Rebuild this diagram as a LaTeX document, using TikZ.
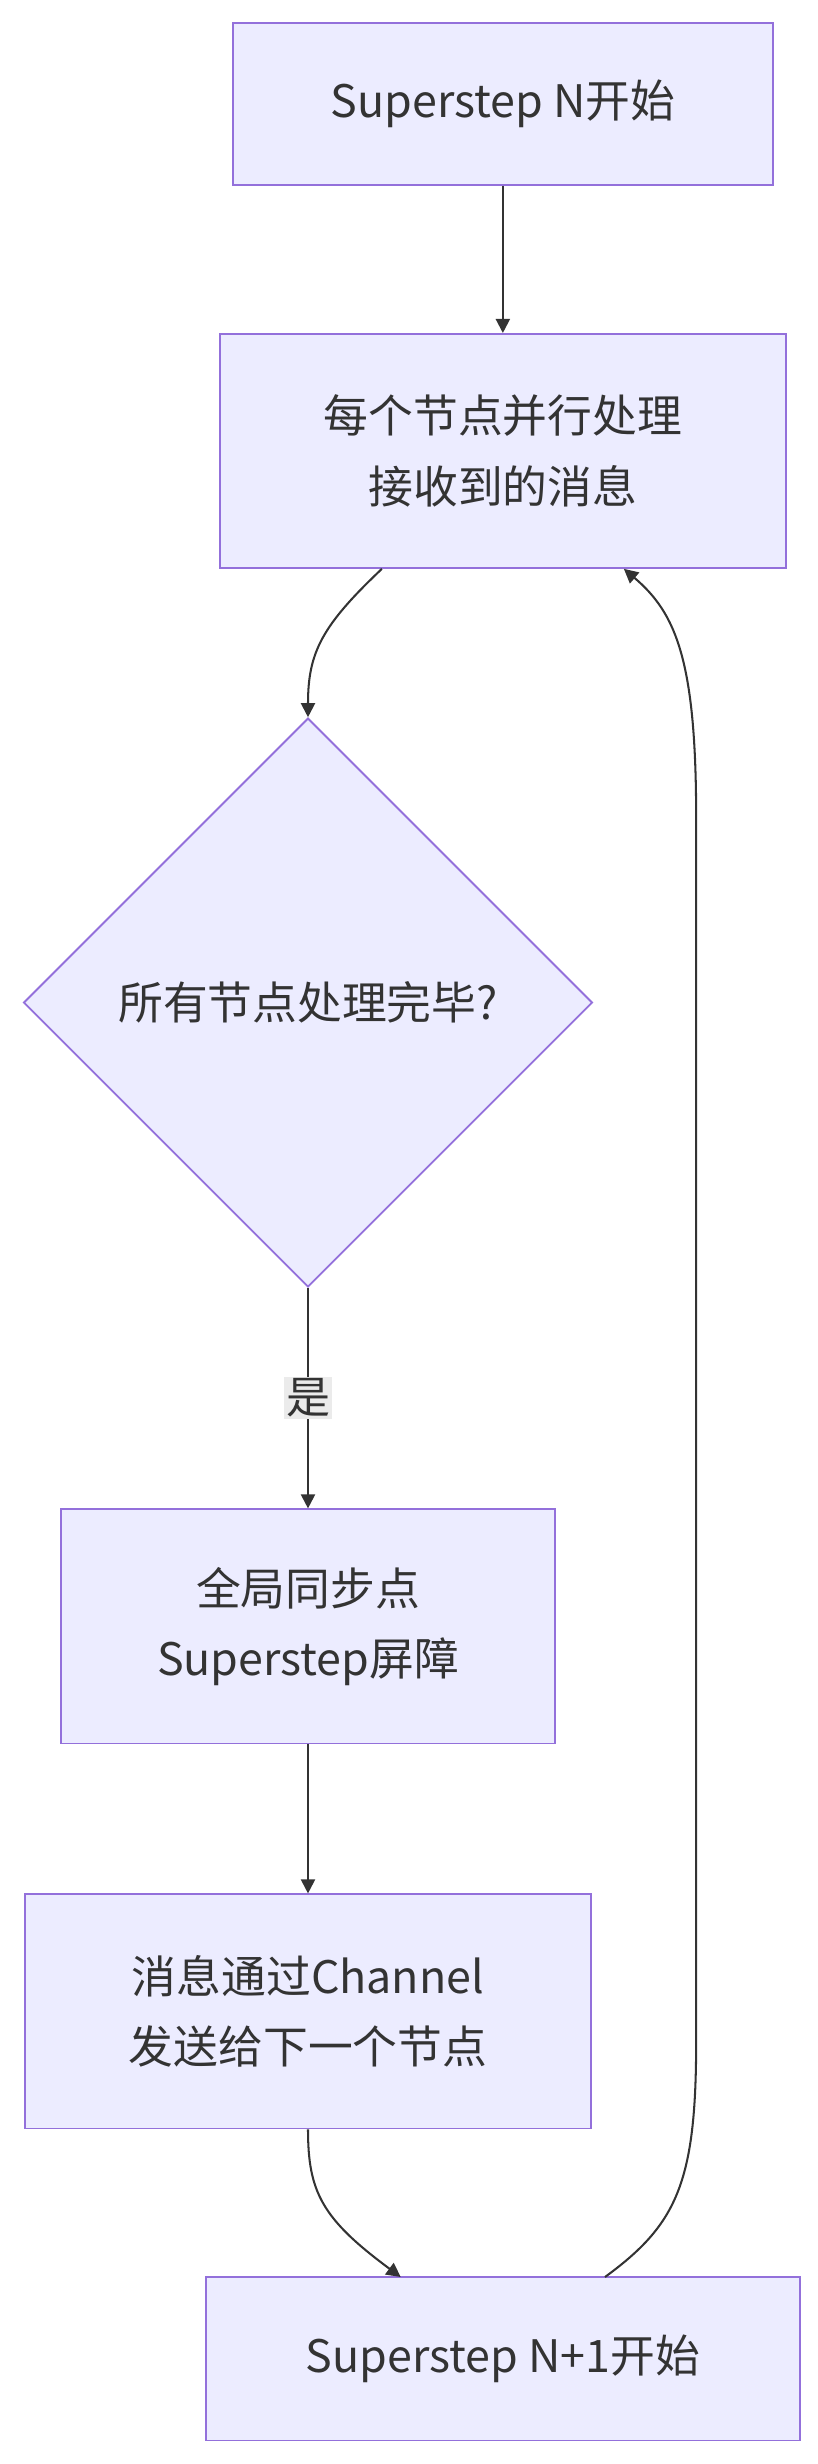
\documentclass[tikz,border=0pt]{standalone}
\usepackage{fontspec}
\setmainfont{Noto Sans CJK SC}
\usetikzlibrary{shapes.geometric,arrows.meta}
\definecolor{nfill}{HTML}{ECECFF}
\definecolor{nline}{HTML}{9370DB}
\definecolor{ink}{HTML}{333333}
\begin{document}
\begin{tikzpicture}[x=1pt,y=-1pt,
  box/.style={draw=nline,fill=nfill,line width=1.2pt,text=ink,font=\fontsize{28.5}{45}\selectfont,align=center,inner sep=0pt},
  dia/.style={diamond,draw=nline,fill=nfill,line width=1.2pt,text=ink,font=\fontsize{28.5}{45}\selectfont,inner sep=0pt,minimum width=362pt,minimum height=362pt},
  conn/.style={draw=ink,line width=1.3pt,-{Triangle[length=9pt,width=9pt]}}]
\useasboundingbox (0,0) rectangle (520,1568);
\node[box,minimum width=344pt,minimum height=103pt] (a) at (320,66) {Superstep N开始};
\node[box,minimum width=360pt,minimum height=149pt] (b) at (320,287) {每个节点并行处理\\接收到的消息};
\node[dia] (c) at (196,638) {所有节点处理完毕?};
\node[box,minimum width=314pt,minimum height=149pt] (d) at (196,1035) {全局同步点\\Superstep屏障};
\node[box,minimum width=360pt,minimum height=149pt] (e) at (196,1280) {消息通过Channel\\发送给下一个节点};
\node[box,minimum width=378pt,minimum height=104pt] (f) at (320,1501) {Superstep N+1开始};
\draw[conn] (a) -- (b);
\draw[conn] (243,362) .. controls (205,398) and (196,415) .. (c.north);
\draw[conn] (c.south) -- node[fill=black!8,text=ink,font=\fontsize{28}{32}\selectfont,inner sep=1pt] (lab) {是} (d.north);
\draw[conn] (d) -- (e);
\draw[conn] (e.south) .. controls (196,1395) and (205,1412) .. (255,1449);
\draw[conn] (385,1449) .. controls (430,1416) and (443,1390) .. (443,1300) -- (443,520) .. controls (443,420) and (430,390) .. (397,362);
\end{tikzpicture}
\end{document}
